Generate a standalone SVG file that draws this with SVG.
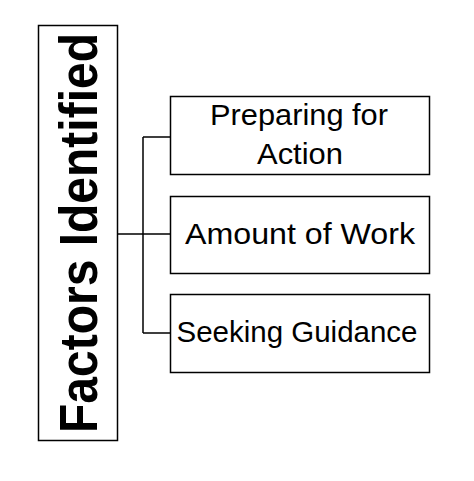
<svg xmlns="http://www.w3.org/2000/svg" width="474" height="481" viewBox="0 0 474 481">
<style>
.box{fill:#fff;stroke:#000;stroke-width:1.5}
.con{fill:none;stroke:#000;stroke-width:1.5}
.lbl{font-family:"Liberation Sans",Arial,sans-serif;font-size:29px;fill:#000;text-anchor:middle}
.title{font-family:"Liberation Sans",Arial,sans-serif;font-size:54px;font-weight:bold;fill:#000;text-anchor:middle}
</style>
<rect width="474" height="481" fill="#fff"/>
<g id="connectors">
<path class="con" d="M118 234H170M143 137V333M143 137H170M143 333H170"/>
</g>
<g id="root">
<rect class="box" x="38.5" y="25.5" width="79" height="415"/>
<text class="title" transform="translate(97,233) rotate(-90)" textLength="400" lengthAdjust="spacingAndGlyphs">Factors Identified</text>
</g>
<g id="n1">
<rect class="box" x="170.5" y="96.5" width="259" height="78"/>
<text class="lbl" x="299" y="125" textLength="178" lengthAdjust="spacingAndGlyphs">Preparing for</text>
<text class="lbl" x="300" y="164" textLength="86" lengthAdjust="spacingAndGlyphs">Action</text>
</g>
<g id="n2">
<rect class="box" x="170.5" y="196.5" width="259" height="77"/>
<text class="lbl" x="300" y="244" textLength="230" lengthAdjust="spacingAndGlyphs">Amount of Work</text>
</g>
<g id="n3">
<rect class="box" x="170.5" y="294.5" width="259" height="78"/>
<text class="lbl" x="297" y="342" textLength="241" lengthAdjust="spacingAndGlyphs">Seeking Guidance</text>
</g>
</svg>
